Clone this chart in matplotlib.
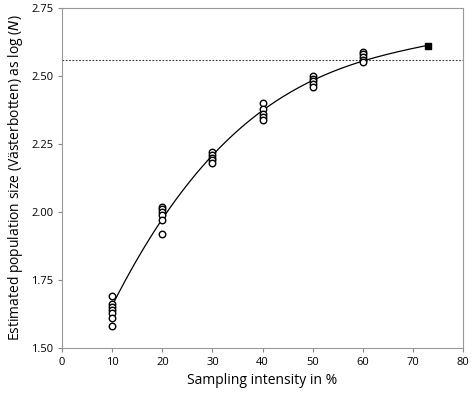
import numpy as np
from matplotlib import pyplot as plt

plt.rcParams['font.family'] = ['Open Sans', 'DejaVu Sans']

# sampled estimates per sampling intensity
x_10 = [1.69, 1.66, 1.65, 1.64, 1.63, 1.61, 1.58]
x_20 = [2.02, 2.01, 2.00, 1.99, 1.97, 1.92]
x_30 = [2.22, 2.21, 2.20, 2.19, 2.18]
x_40 = [2.40, 2.38, 2.36, 2.35, 2.34]
x_50 = [2.50, 2.49, 2.48, 2.47, 2.46]
x_60 = [2.59, 2.58, 2.57, 2.56, 2.55]
groups = {10: x_10, 20: x_20, 30: x_30, 40: x_40, 50: x_50, 60: x_60}

full_x, full_y = 73, 2.61
ref_line = 2.56

# curve knots
curve_x = [10, 20, 30, 40, 50, 60, 73]
curve_y = [1.65, 1.99, 2.20, 2.37, 2.48, 2.565, 2.61]

fig = plt.figure(figsize=(4.74, 4.05), dpi=100)
ax = fig.add_axes([0.131, 0.141, 0.846, 0.839])

coef = np.polyfit(curve_x, curve_y, 3)
xs = np.linspace(10, 73, 200)
ax.plot(xs, np.polyval(coef, xs), color='black', lw=0.9)

for xv, ys in groups.items():
    ax.scatter([xv] * len(ys), ys, s=22, facecolors='white', edgecolors='black', linewidths=1, zorder=3)
ax.scatter([full_x], [full_y], marker='s', s=22, color='black', zorder=3)
ax.axhline(ref_line, color='#333333', ls=(0, (1.5, 1.5)), lw=0.8)

ax.set_xlim(0, 80)
ax.set_ylim(1.5, 2.75)
ax.set_xticks(range(0, 81, 10))
ax.set_yticks([1.5, 1.75, 2.0, 2.25, 2.5, 2.75])
ax.set_yticklabels(['1.50', '1.75', '2.00', '2.25', '2.50', '2.75'])
ax.tick_params(labelsize=8, color='#888888', length=3)
for s in ax.spines.values():
    s.set_color('#999999')
ax.set_xlabel('Sampling intensity in %', fontsize=10)
ax.set_ylabel('Estimated population size (Västerbotten) as log ($N$)', fontsize=10)
fig.savefig('out.png')
